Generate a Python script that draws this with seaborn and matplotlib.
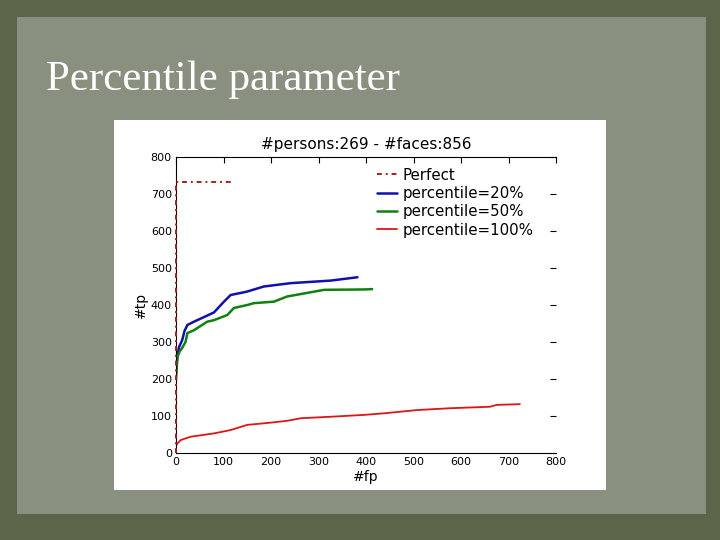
import matplotlib
matplotlib.use('Agg')
import matplotlib.pyplot as plt
import matplotlib.patches as mpatches
import pandas as pd
import seaborn as sns

# curves (#fp, #tp)
perfect_fp = [0, 0, 118]
perfect_tp = [0, 733, 733]

p20_fp = [0, 2, 6, 13, 18, 24, 38, 55, 80, 101, 115, 149, 185, 241, 326, 382]
p20_tp = [216, 250, 285, 305, 330, 346, 355, 365, 380, 409, 427, 436, 450, 459, 466, 475]

p50_fp = [0, 3, 8, 13, 20, 24, 38, 66, 80, 108, 122, 150, 164, 206, 234, 312, 396, 413]
p50_tp = [197, 260, 275, 284, 300, 324, 332, 355, 359, 373, 392, 400, 405, 409, 423, 441, 442, 443]

p100_fp = [0, 3, 10, 31, 80, 115, 150, 199, 234, 263, 326, 396, 436, 507, 577, 661, 675, 724]
p100_tp = [20, 26, 35, 44, 53, 62, 76, 82, 87, 94, 98, 103, 107, 116, 121, 125, 130, 132]

labels = ['Perfect', 'percentile=20%', 'percentile=50%', 'percentile=100%']
colors = ['#b01a1a', '#1010b0', '#108010', '#dd1515']

sns.set_style('white')
plt.rcParams['text.color'] = 'black'
plt.rcParams['axes.labelcolor'] = 'black'
plt.rcParams['xtick.color'] = 'black'
plt.rcParams['ytick.color'] = 'black'

fig = plt.figure(figsize=(7.2, 5.4), dpi=100)
fig.patch.set_facecolor('#5c6449')
# lighter "paper" of the slide
fig.patches.append(mpatches.Rectangle((17/720, 26/540), 689/720, 497/540, transform=fig.transFigure,
                                      facecolor='#8a9080', edgecolor='none', zorder=-3))
# white box of the embedded chart
fig.patches.append(mpatches.Rectangle((114/720, 1-490/540), 492/720, 370/540, transform=fig.transFigure,
                                      facecolor='white', edgecolor='none', zorder=-2))
fig.text(46/720, 1-80/540, 'Percentile parameter', color='white', fontsize=31,
         family='Liberation Serif', va='center', ha='left')

ax = fig.add_axes([176/720, 1-453/540, 380/720, 296/540])
ax.set_facecolor('white')

sns.lineplot(x=perfect_fp, y=perfect_tp, ax=ax, color=colors[0], lw=1.4, dashes=False,
             sort=False, estimator=None, label=labels[0])
ax.lines[-1].set_linestyle((0, (2.5, 2, 1, 2)))
ax.lines[-1].set_clip_on(False)
ax.lines[-1].set_zorder(5)
sns.lineplot(x=p20_fp, y=p20_tp, ax=ax, color=colors[1], lw=1.8,
             sort=False, estimator=None, label=labels[1])
sns.lineplot(x=p50_fp, y=p50_tp, ax=ax, color=colors[2], lw=1.8,
             sort=False, estimator=None, label=labels[2])
sns.lineplot(x=p100_fp, y=p100_tp, ax=ax, color=colors[3], lw=1.3,
             sort=False, estimator=None, label=labels[3])

ax.set_xlim(0, 800)
ax.set_ylim(0, 800)
ax.set_xticks(range(0, 801, 100))
ax.set_yticks(range(0, 801, 100))
ax.tick_params(direction='in', labelsize=8, length=4, top=True, right=True, pad=3)
ax.spines['right'].set_visible(False)
for s in ['left', 'bottom', 'top']:
    ax.spines[s].set_color('black')
ax.set_xlabel('#fp', fontsize=10, labelpad=2)
ax.set_ylabel('#tp', fontsize=10, labelpad=2)
ax.set_title('#persons:269 - #faces:856', fontsize=11, pad=6)

ax.legend(loc='upper left', bbox_to_anchor=(0.529, 0.964), frameon=False, fontsize=10.8,
          handlelength=1.35, handletextpad=0.33, labelspacing=0.22, borderpad=0, borderaxespad=0)

fig.savefig('out.png', dpi=100, facecolor=fig.get_facecolor())
